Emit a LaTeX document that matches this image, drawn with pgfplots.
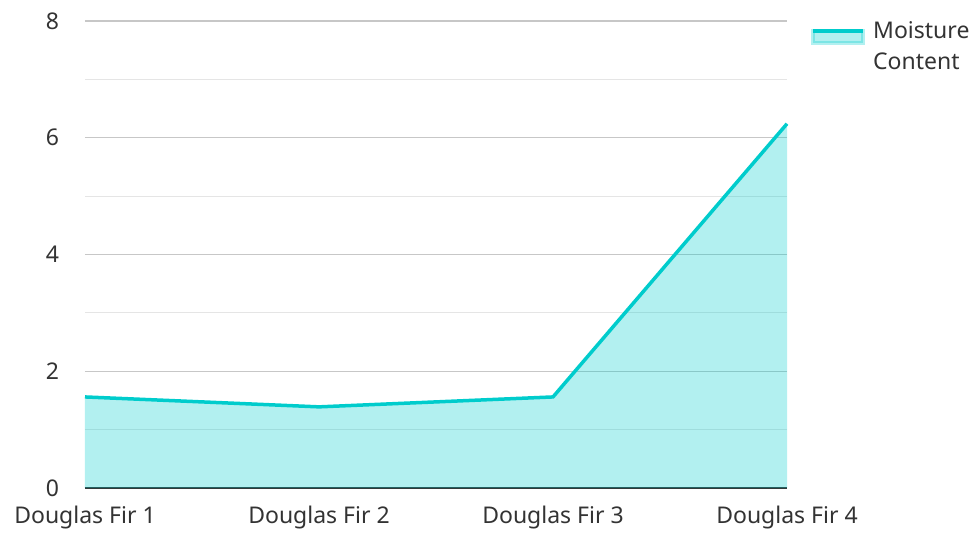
\documentclass[border=0pt]{standalone}
\usepackage{pgfplots}
\pgfplotsset{compat=1.18}
\usepackage{fontspec}
\setmainfont{Noto Sans}
\definecolor{mc}{HTML}{00CCCC}
\definecolor{txt}{HTML}{333333}
\begin{document}
\fontsize{23}{31}\selectfont
\begin{tikzpicture}
\begin{axis}[
  at={(0,0)}, anchor=origin,
  scale only axis, width=702pt, height=467pt,
  xmin=0, xmax=3, ymin=0, ymax=8,
  xtick={0,1,2,3},
  xticklabels={Douglas Fir 1,Douglas Fir 2,Douglas Fir 3,Douglas Fir 4},
  ytick={0,2,4,6,8},
  minor ytick={1,3,5,7},
  ymajorgrids, yminorgrids,
  major grid style={draw=black!22, line width=1.2pt},
  minor grid style={draw=black!10, line width=1.2pt},
  axis lines*=left,
  x axis line style={draw=txt, line width=2pt, -},
  y axis line style={draw=none},
  major tick length=0pt, minor tick length=0pt,
  tick style={draw=none},
  ticklabel style={font=\fontsize{23}{28}\selectfont, text=txt},
  xticklabel style={yshift=-10pt},
  yticklabel style={xshift=-18pt},
  /pgf/number format/assume math mode=true,
  legend style={at={(1,1)}, anchor=north west, xshift=22pt, yshift=8pt, draw=none, fill=none,
    font=\fontsize{23}{31}\selectfont, text=txt, inner sep=2pt},
  legend cell align=left,
  clip=false,
]
\addplot[draw=none, fill=mc, fill opacity=0.3, forget plot]
  coordinates {(0,1.56) (1,1.39) (2,1.56) (3,6.24)} \closedcycle;
\addplot[draw=mc, line width=3.5pt,
  legend image code/.code={
    \fill[mc, opacity=0.3] (0pt,-13pt) rectangle (50pt,-1pt);
    \draw[mc, line width=4pt] (0pt,-1pt)--(50pt,-1pt);}]
  coordinates {(0,1.56) (1,1.39) (2,1.56) (3,6.24)};
\addlegendentry{\begin{tabular}[t]{@{\hspace{6pt}}l@{}}Moisture\\Content\end{tabular}}
\end{axis}
\path[use as bounding box] (-85pt,-43pt) rectangle (892pt,488pt);
\end{tikzpicture}
\end{document}
